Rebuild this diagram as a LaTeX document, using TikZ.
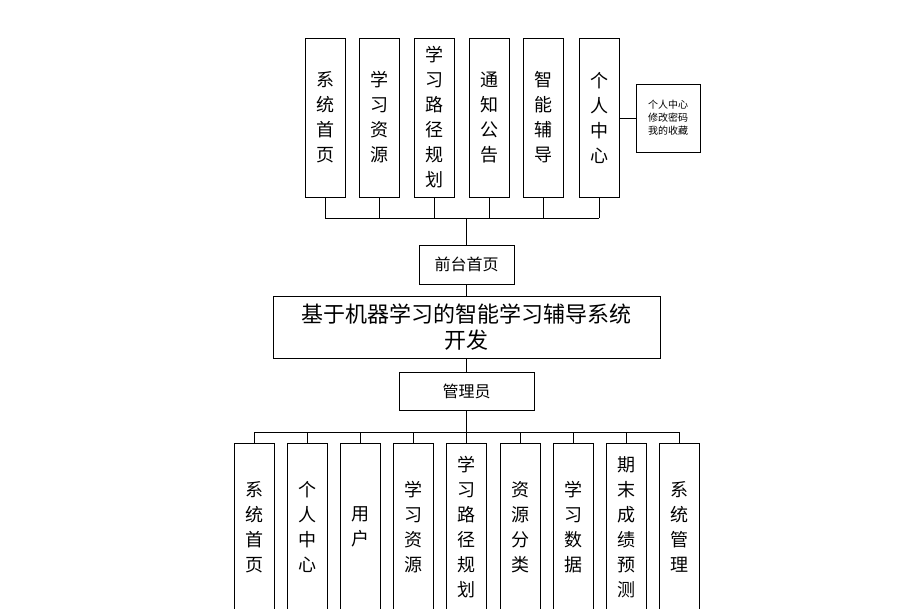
\documentclass[tikz,border=0pt]{standalone}
\usepackage{fontspec}
\setmainfont{Noto Sans CJK SC}
\begin{document}
\begin{tikzpicture}[x=1pt,y=-1pt,
 box/.style={draw,thick,inner sep=0pt,align=center,font=\fontsize{18}{25}\selectfont},
 ln/.style={thick}]
\useasboundingbox (0,0) rectangle (923,608);
\clip (0,0) rectangle (923,608);
% top boxes
\foreach \n/\x/\t in {t1/325/系\\统\\首\\页, t2/379.5/学\\习\\资\\源, t3/434.5/学\\习\\路\\径\\规\\划, t4/489/通\\知\\公\\告, t5/543.5/智\\能\\辅\\导, t6/599/个\\人\\中\\心}{
  \node[box,minimum width=40pt,minimum height=159pt] (\n) at (\x,117.5) {\t};
  \draw[ln] (\n.south) -- (\x,218);
}
\node[box,minimum width=64pt,minimum height=68pt,font=\fontsize{10}{13}\selectfont] (pc) at (668,118) {个人中心\\修改密码\\我的收藏};
\draw[ln] (t6.east|-pc.west) -- (pc.west);
\draw[ln] (325,218) -- (599,218);
\node[box,minimum width=95pt,minimum height=39pt,font=\fontsize{16}{20}\selectfont] (front) at (466.5,264.5) {前台首页};
\draw[ln] (466.5,218) -- (front.north);
\node[box,minimum width=387pt,minimum height=62pt,font=\fontsize{22}{26}\selectfont] (main) at (466.5,327) {基于机器学习的智能学习辅导系统\\开发};
\draw[ln] (front.south) -- (main.north);
\node[box,minimum width=135pt,minimum height=38pt,font=\fontsize{16}{20}\selectfont] (admin) at (466.5,391) {管理员};
\draw[ln] (main.south) -- (admin.north);
\draw[ln] (admin.south) -- (466.5,432);
\draw[ln] (254,432) -- (679,432);
\foreach \n/\x/\t in {b1/254/系\\统\\首\\页, b2/307/个\\人\\中\\心, b3/360.5/用\\户, b4/413/学\\习\\资\\源, b5/466.5/学\\习\\路\\径\\规\\划, b6/520/资\\源\\分\\类, b7/573/学\\习\\数\\据, b8/626/期\\末\\成\\绩\\预\\测, b9/679/系\\统\\管\\理}{
  \node[box,minimum width=40pt,minimum height=168pt] (\n) at (\x,527) {\t};
  \draw[ln] (\x,432) -- (\n.north);
}
\end{tikzpicture}
\end{document}
